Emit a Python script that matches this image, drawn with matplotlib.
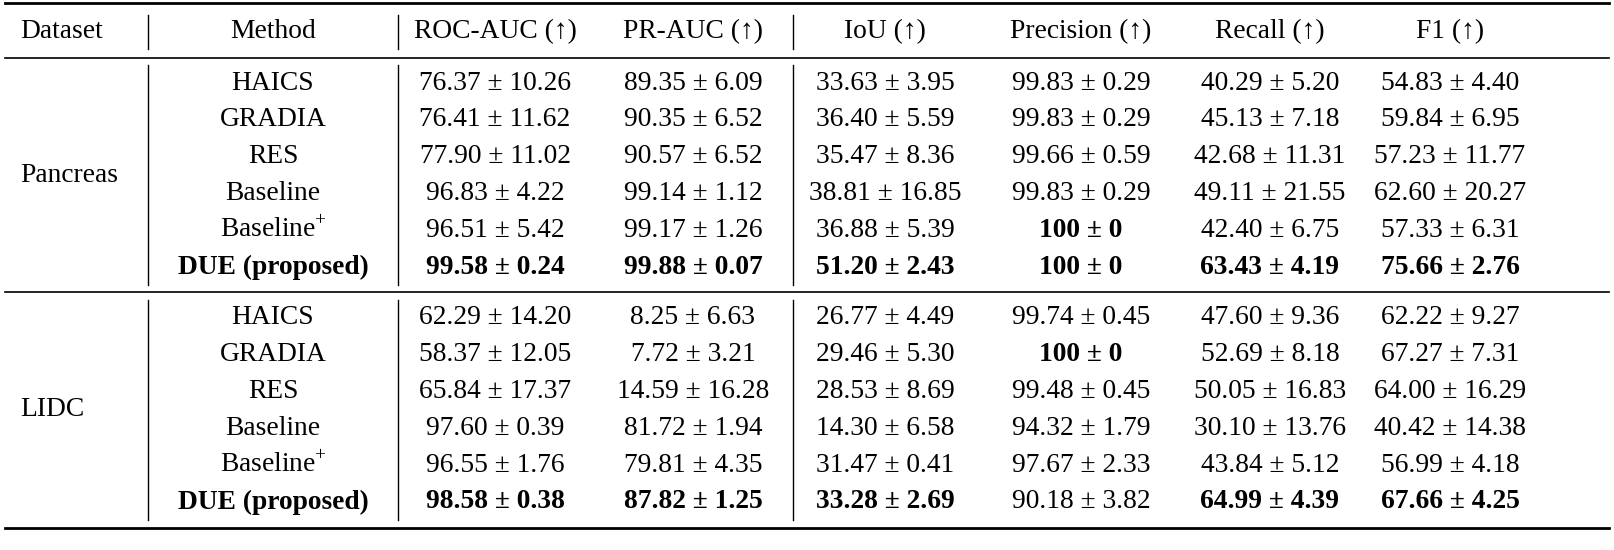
import matplotlib.pyplot as plt

plt.rcParams['font.family'] = ['Liberation Serif', 'DejaVu Serif']
plt.rcParams['mathtext.fontset'] = 'custom'
plt.rcParams['mathtext.rm'] = 'Liberation Serif'

headers = ["Dataset", "Method", "ROC-AUC (↑)", "PR-AUC (↑)", "IoU (↑)",
           "Precision (↑)", "Recall (↑)", "F1 (↑)"]
datasets = ["Pancreas", "LIDC"]
methods = ["HAICS", "GRADIA", "RES", "Baseline", "Baseline$^{+}$", "DUE (proposed)"]

pancreas = [
    ["76.37 ± 10.26", "89.35 ± 6.09", "33.63 ± 3.95", "99.83 ± 0.29", "40.29 ± 5.20", "54.83 ± 4.40"],
    ["76.41 ± 11.62", "90.35 ± 6.52", "36.40 ± 5.59", "99.83 ± 0.29", "45.13 ± 7.18", "59.84 ± 6.95"],
    ["77.90 ± 11.02", "90.57 ± 6.52", "35.47 ± 8.36", "99.66 ± 0.59", "42.68 ± 11.31", "57.23 ± 11.77"],
    ["96.83 ± 4.22", "99.14 ± 1.12", "38.81 ± 16.85", "99.83 ± 0.29", "49.11 ± 21.55", "62.60 ± 20.27"],
    ["96.51 ± 5.42", "99.17 ± 1.26", "36.88 ± 5.39", "100 ± 0", "42.40 ± 6.75", "57.33 ± 6.31"],
    ["99.58 ± 0.24", "99.88 ± 0.07", "51.20 ± 2.43", "100 ± 0", "63.43 ± 4.19", "75.66 ± 2.76"],
]
lidc = [
    ["62.29 ± 14.20", "8.25 ± 6.63", "26.77 ± 4.49", "99.74 ± 0.45", "47.60 ± 9.36", "62.22 ± 9.27"],
    ["58.37 ± 12.05", "7.72 ± 3.21", "29.46 ± 5.30", "100 ± 0", "52.69 ± 8.18", "67.27 ± 7.31"],
    ["65.84 ± 17.37", "14.59 ± 16.28", "28.53 ± 8.69", "99.48 ± 0.45", "50.05 ± 16.83", "64.00 ± 16.29"],
    ["97.60 ± 0.39", "81.72 ± 1.94", "14.30 ± 6.58", "94.32 ± 1.79", "30.10 ± 13.76", "40.42 ± 14.38"],
    ["96.55 ± 1.76", "79.81 ± 4.35", "31.47 ± 0.41", "97.67 ± 2.33", "43.84 ± 5.12", "56.99 ± 4.18"],
    ["98.58 ± 0.38", "87.82 ± 1.25", "33.28 ± 2.69", "90.18 ± 3.82", "64.99 ± 4.39", "67.66 ± 4.25"],
]
# bold cells: (row, metric column)
bold_pancreas = [(4, 3), (5, 0), (5, 1), (5, 2), (5, 3), (5, 4), (5, 5)]
bold_lidc = [(1, 3), (5, 0), (5, 1), (5, 2), (5, 4), (5, 5)]

W, H = 1614, 550
fig = plt.figure(figsize=(W / 100, H / 100), dpi=100)
ax = fig.add_axes([0, 0, 1, 1])
ax.set_xlim(0, W)
ax.set_ylim(H, 0)
ax.axis('off')

fs = 19.8
col_x = [20, 273, 495, 693, 885, 1081, 1270, 1450]
vlines = [148, 398, 793]

# header
y_head = 32
for i, h in enumerate(headers):
    ax.text(col_x[i], y_head, h, fontsize=fs, ha='left' if i == 0 else 'center', va='center')
for x in vlines:
    ax.plot([x, x], [15, 49], color='black', lw=1)

# rules
ax.plot([5, 1609], [3, 3], color='black', lw=2)
ax.plot([5, 1609], [58, 58], color='black', lw=1.2)
ax.plot([5, 1609], [292, 292], color='black', lw=1.2)
ax.plot([5, 1609], [528, 528], color='black', lw=2)

blocks = [(pancreas, bold_pancreas, 83), (lidc, bold_lidc, 318)]
step = 36.8
for bi, (rows, bolds, y0) in enumerate(blocks):
    ys = [y0 + k * step for k in range(len(methods))]
    ax.text(col_x[0], (ys[0] + ys[-1]) / 2, datasets[bi], fontsize=fs, ha='left', va='center')
    for x in vlines:
        ax.plot([x, x], [y0 - 18, ys[-1] + 18], color='black', lw=1)
    for r, m in enumerate(methods):
        mw = 'bold' if r == len(methods) - 1 else 'normal'
        ax.text(col_x[1], ys[r], m, fontsize=fs, ha='center', va='center', fontweight=mw)
        for c, val in enumerate(rows[r]):
            w = 'bold' if (r, c) in bolds else 'normal'
            ax.text(col_x[c + 2], ys[r], val, fontsize=fs, ha='center', va='center', fontweight=w)

fig.savefig('out.png', dpi=100)
